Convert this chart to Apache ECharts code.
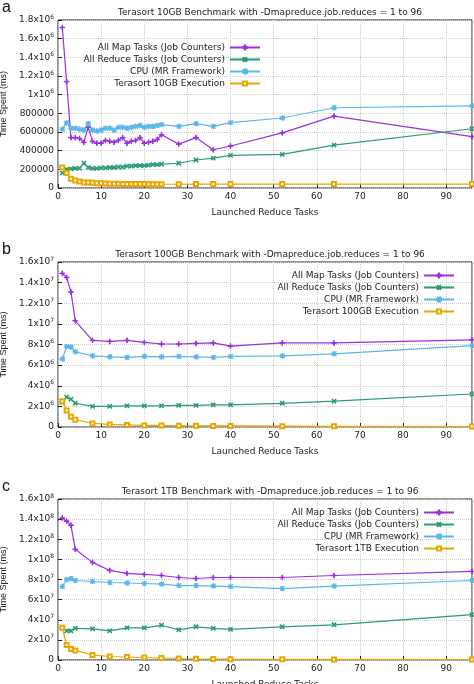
<!DOCTYPE html>
<html><head><meta charset="utf-8">
<script src="https://cdn.jsdelivr.net/npm/echarts@6/dist/echarts.min.js"></script>
<style>html,body{margin:0;padding:0;background:#fff}#c{width:474px;height:684px}</style>
</head><body><div id="c"></div>
<script>
const seriesNames = ['All Map Tasks (Job Counters)','All Reduce Tasks (Job Counters)','CPU (MR Framework)'];
const execNames = ['Terasort 10GB Execution','Terasort 100GB Execution','Terasort 1TB Execution'];
const titles = ['Terasort 10GB Benchmark with -Dmapreduce.job.reduces = 1 to 96','Terasort 100GB Benchmark with -Dmapreduce.job.reduces = 1 to 96','Terasort 1TB Benchmark with -Dmapreduce.job.reduces = 1 to 96'];

const xA = [1,2,3,4,5,6,7,8,9,10,11,12,13,14,15,16,17,18,19,20,21,22,23,24,28,32,36,40,52,64,96];
const mapA = [1720000,1140000,540000,540000,530000,490000,650000,500000,480000,480000,510000,500000,490000,510000,540000,480000,500000,510000,540000,480000,490000,500000,520000,570000,470000,540000,410000,450000,590000,770000,550000];
const redA = [160000,200000,205000,210000,210000,265000,220000,210000,210000,215000,215000,220000,220000,225000,225000,235000,235000,240000,240000,240000,245000,250000,250000,255000,265000,300000,320000,350000,360000,460000,635000];
const cpuA = [630000,700000,640000,640000,630000,620000,690000,620000,610000,620000,640000,640000,620000,650000,650000,640000,650000,660000,670000,650000,660000,660000,670000,680000,660000,690000,660000,700000,750000,860000,880000];
const exeA = [220000,160000,100000,80000,70000,60000,60000,55000,50000,50000,48000,46000,45000,45000,44000,44000,43000,43000,42000,42000,40000,40000,40000,40000,40000,42000,42000,42000,42000,42000,42000];

const xB = [1,2,3,4,8,12,16,20,24,28,32,36,40,52,64,96];
const mapB = [14900000,14500000,13100000,10300000,8400000,8300000,8400000,8200000,8050000,8050000,8100000,8150000,7850000,8150000,8150000,8450000];
const redB = [2400000,2900000,2700000,2300000,2000000,2000000,2050000,2050000,2050000,2100000,2100000,2150000,2150000,2300000,2500000,3200000];
const cpuB = [6600000,7800000,7750000,7300000,6900000,6800000,6750000,6850000,6800000,6850000,6800000,6750000,6850000,6900000,7100000,7900000];
const exeB = [2500000,1600000,1000000,700000,350000,250000,200000,150000,150000,120000,120000,100000,100000,80000,70000,50000];

const xC = [1,2,3,4,8,12,16,20,24,28,32,36,40,52,64,96];
const mapC = [141000000,138000000,134000000,110000000,97000000,89000000,86000000,85000000,84000000,82000000,81000000,82000000,82000000,82000000,84000000,88000000];
const redC = [32000000,29000000,29000000,31500000,31000000,29000000,32000000,32000000,34500000,30000000,33000000,31500000,30500000,33000000,35000000,45000000];
const cpuC = [73000000,80000000,81000000,79000000,78000000,77000000,76500000,76000000,75500000,74000000,74000000,73500000,73000000,71000000,73500000,79000000];
const exeC = [32000000,15000000,11000000,9500000,5000000,3500000,3000000,2500000,2000000,1500000,1200000,1000000,800000,700000,600000,500000];

const colors = ['#9b30e0','#2a9d70','#5ab8e8','#e8a800'];
const symPlus = 'path://M4,0h1v4h4v1h-4v4h-1v-4h-4v-1h4z';
const symStar = 'path://M4,0h1v4h4v1h-4v4h-1v-4h-4v-1h4zM1,1.7l0.7,-0.7l7,7l-0.7,0.7zM1,7.3l7,-7l0.7,0.7l-7,7z';
const symbols = [symPlus, symPlus, symStar, 'emptyRect'];
const rot = [0,45,0,0];

const panels = [
  {x:xA, d:[mapA,redA,cpuA,exeA], top:20, h:168, max:1800000, step:200000, plainBelow:1000000, legTop:38, legRight:208},
  {x:xB, d:[mapB,redB,cpuB,exeB], top:262, h:165, max:16000000, step:2000000, legTop:266, legRight:14},
  {x:xC, d:[mapC,redC,cpuC,exeC], top:499, h:161, max:160000000, step:20000000, legTop:503, legRight:14}
];

function fmt(p){
  return function(v){
    if(v===0) return '0';
    if(p.plainBelow && v < p.plainBelow) return String(v);
    const e = Math.floor(Math.log10(v)+1e-9);
    let m = +(v/Math.pow(10,e)).toFixed(2);
    return m + 'x10{s|' + e + '}';
  };
}

const option = {animation:false, title:[], grid:[], xAxis:[], yAxis:[], series:[], legend:[], graphic:[]};
panels.forEach((p,i)=>{
  option.title.push({text:titles[i], left:265, top:p.top-17, textAlign:'center',
    textStyle:{fontSize:9, fontWeight:'normal', color:'#222', fontFamily:'DejaVu Sans'}});
  option.grid.push({left:58, right:2, top:p.top, height:p.h, show:true, borderColor:'#222', borderWidth:1,
    outerBoundsMode:'none', containLabel:false});
  option.xAxis.push({gridIndex:i, type:'value', min:0, max:96, interval:10, name:'Launched Reduce Tasks',
    nameLocation:'middle', nameGap:20, nameTextStyle:{fontSize:9, color:'#222', fontFamily:'DejaVu Sans'},
    axisLine:{show:false}, axisTick:{inside:true, length:4, lineStyle:{color:'#222'}},
    axisLabel:{fontSize:9, color:'#222', margin:4, fontFamily:'DejaVu Sans', showMaxLabel:false},
    splitLine:{show:true, lineStyle:{type:'dotted', color:'#ccc'}}});
  option.yAxis.push({gridIndex:i, type:'value', min:0, max:p.max, interval:p.step, name:'Time Spent (ms)',
    nameLocation:'middle', nameGap:46, nameTextStyle:{fontSize:9, color:'#222', fontFamily:'Liberation Sans'},
    axisLine:{show:false}, axisTick:{inside:true, length:4, lineStyle:{color:'#222'}},
    axisLabel:{fontSize:9, color:'#222', margin:4, fontFamily:'DejaVu Sans', formatter:fmt(p),
      rich:{s:{fontSize:6, verticalAlign:'top', padding:[0,0,6,0], color:'#222'}}},
    splitLine:{show:true, lineStyle:{type:'dotted', color:'#ccc'}}});
  const names = [seriesNames[0], seriesNames[1], seriesNames[2], execNames[i]];
  const legendData = [];
  p.d.forEach((vals,k)=>{
    const id = 'p'+i+'s'+k;
    legendData.push({name:id, itemStyle:{color:colors[k], borderColor:colors[k]}});
    option.series.push({type:'line', id:id, name:id, xAxisIndex:i, yAxisIndex:i,
      data: p.x.map((xv,j)=>[xv, vals[j]]),
      symbol:symbols[k], symbolRotate:rot[k], symbolSize:k===3?4:5,
      lineStyle:{color:colors[k], width:1.2}, itemStyle:{color:colors[k], borderColor:colors[k], borderWidth:1}});
  });
  option.legend.push({orient:'vertical', right:p.legRight, top:p.legTop, align:'right', itemGap:3,
    itemWidth:30, itemHeight:5, data:legendData, selectedMode:false,
    formatter:function(n){ const k=+n.split('s')[1]; return names[k]; },
    textStyle:{fontSize:9, color:'#222', fontFamily:'DejaVu Sans'}});
  option.graphic.push({type:'text', left:2, top:p.top-20, style:{text:['a','b','c'][i], fontSize:16, fill:'#111', fontFamily:'Liberation Sans'}});
});

const chart = echarts.init(document.getElementById('c'));
chart.setOption(option);
</script></body></html>
